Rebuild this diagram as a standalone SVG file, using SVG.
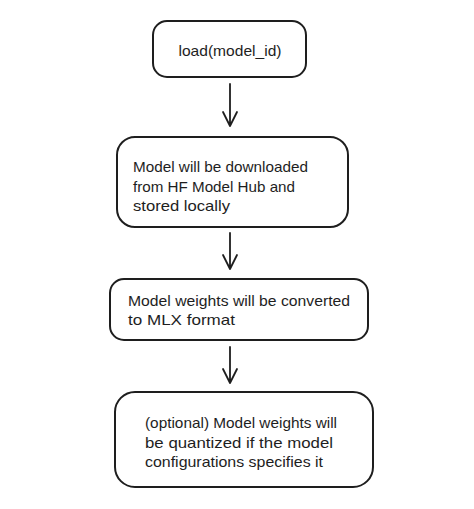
<svg xmlns="http://www.w3.org/2000/svg" width="474" height="509" viewBox="0 0 474 509">
<style>
.box{fill:none;stroke:#1e1e1e;stroke-width:2;stroke-linecap:round;stroke-linejoin:round}
.lbl{font-family:"Liberation Sans","DejaVu Sans",sans-serif;font-size:15px;fill:#1e1e1e}
.conn{fill:none;stroke:#1e1e1e;stroke-width:1.8;stroke-linecap:round;stroke-linejoin:round}
</style>
<rect width="474" height="509" fill="#ffffff"/>
<g id="node-load">
<rect class="box" x="153" y="21" width="153" height="56" rx="14"/>
<text class="lbl" x="230" y="56" text-anchor="middle" textLength="103" lengthAdjust="spacingAndGlyphs">load(model_id)</text>
</g>
<g id="node-download">
<rect class="box" x="117" y="137" width="231" height="90" rx="18"/>
<text class="lbl" x="133" y="172" textLength="175" lengthAdjust="spacingAndGlyphs">Model will be downloaded</text>
<text class="lbl" x="133" y="192" textLength="162" lengthAdjust="spacingAndGlyphs">from HF Model Hub and</text>
<text class="lbl" x="133" y="211" textLength="97" lengthAdjust="spacingAndGlyphs">stored locally</text>
</g>
<g id="node-convert">
<rect class="box" x="110" y="279" width="258" height="61" rx="14"/>
<text class="lbl" x="128" y="306" textLength="222" lengthAdjust="spacingAndGlyphs">Model weights will be converted</text>
<text class="lbl" x="128" y="325" textLength="107" lengthAdjust="spacingAndGlyphs">to MLX format</text>
</g>
<g id="node-quantize">
<rect class="box" x="115" y="392" width="258" height="95" rx="20"/>
<text class="lbl" x="145" y="428" textLength="192" lengthAdjust="spacingAndGlyphs">(optional) Model weights will</text>
<text class="lbl" x="145" y="448" textLength="188" lengthAdjust="spacingAndGlyphs">be quantized if the model</text>
<text class="lbl" x="145" y="467" textLength="178" lengthAdjust="spacingAndGlyphs">configurations specifies it</text>
</g>
<g id="connectors">
<path class="conn" d="M230 84 L230 126 M223 112 L230 126 L237 112"/>
<path class="conn" d="M230 233 L230 269 M223 255 L230 269 L237 255"/>
<path class="conn" d="M230 347 L230 383 M223 369 L230 383 L237 369"/>
</g>
</svg>
